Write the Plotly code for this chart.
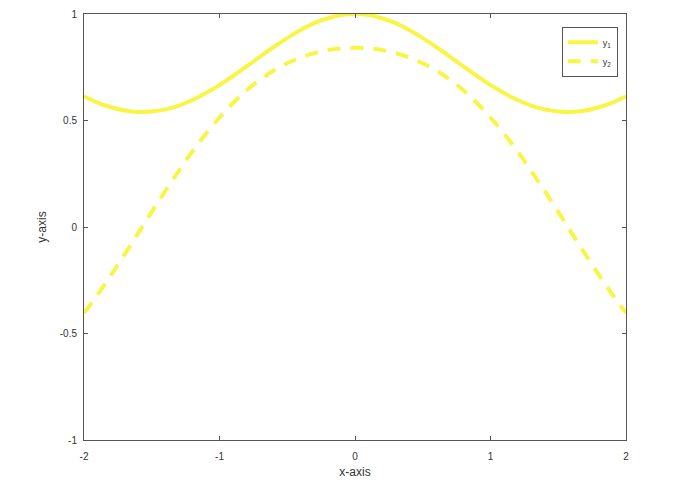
import plotly.graph_objects as go

# sample points
x_vals = [-2.0, -1.9, -1.8, -1.7, -1.6, -1.5, -1.4, -1.3, -1.2, -1.1, -1.0,
          -0.9, -0.8, -0.7, -0.6, -0.5, -0.4, -0.3, -0.2, -0.1, 0.0,
          0.1, 0.2, 0.3, 0.4, 0.5, 0.6, 0.7, 0.8, 0.9, 1.0,
          1.1, 1.2, 1.3, 1.4, 1.5, 1.6, 1.7, 1.8, 1.9, 2.0]

y1_vals = [0.614, 0.584, 0.562, 0.547, 0.540, 0.542, 0.552, 0.570, 0.596, 0.629, 0.666,
           0.709, 0.754, 0.800, 0.845, 0.887, 0.925, 0.957, 0.980, 0.995, 1.000,
           0.995, 0.980, 0.957, 0.925, 0.887, 0.845, 0.800, 0.754, 0.709, 0.666,
           0.629, 0.596, 0.570, 0.552, 0.542, 0.540, 0.547, 0.562, 0.584, 0.614]

y2_vals = [-0.404, -0.318, -0.225, -0.128, -0.029, 0.071, 0.169, 0.264, 0.355, 0.438, 0.514,
           0.582, 0.642, 0.692, 0.735, 0.769, 0.796, 0.816, 0.831, 0.839, 0.841,
           0.839, 0.831, 0.816, 0.796, 0.769, 0.735, 0.692, 0.642, 0.582, 0.514,
           0.438, 0.355, 0.264, 0.169, 0.071, -0.029, -0.128, -0.225, -0.318, -0.404]

x_ticks = [-2, -1, 0, 1, 2]
x_labels = ["-2", "-1", "0", "1", "2"]
y_ticks = [-1, -0.5, 0, 0.5, 1]
y_labels = ["-1", "-0.5", "0", "0.5", "1"]

yellow = "#f9f546"

fig = go.Figure()
fig.add_trace(go.Scatter(x=x_vals, y=y1_vals, mode="lines", name="y<sub>1</sub>",
                         line=dict(color=yellow, width=4, shape="spline")))
fig.add_trace(go.Scatter(x=x_vals, y=y2_vals, mode="lines", name="y<sub>2</sub>",
                         line=dict(color=yellow, width=4, shape="spline", dash="13px,10px")))

axis_style = dict(showline=True, linecolor="#555555", linewidth=1, mirror="ticks",
                  ticks="inside", ticklen=4, tickcolor="#555555", showgrid=False,
                  zeroline=False, automargin=False, tickfont=dict(size=10, color="#333333"))

fig.update_xaxes(range=[-2, 2], tickvals=x_ticks, ticktext=x_labels, ticklabelstandoff=7,
                 title=dict(text="x-axis", font=dict(size=12, color="#333333"), standoff=6),
                 **axis_style)
fig.update_yaxes(range=[-1, 1], tickvals=y_ticks, ticktext=y_labels, ticklabelstandoff=4,
                 title=dict(text="y-axis", font=dict(size=12, color="#333333"), standoff=10),
                 **axis_style)

# page body adds 8px, so the figure is kept smaller and the margins shifted
fig.update_layout(
    width=659, height=477,
    margin=dict(l=76, r=41, t=6, b=45),
    plot_bgcolor="white", paper_bgcolor="white",
    font=dict(family="Liberation Sans, Arial, sans-serif"),
    legend=dict(x=0.985, y=0.97, xanchor="right", yanchor="top",
                bordercolor="#555555", borderwidth=1, bgcolor="white",
                font=dict(size=9, color="#333333"), tracegroupgap=0, itemwidth=30),
    showlegend=True,
)

fig.write_html("out.html")
